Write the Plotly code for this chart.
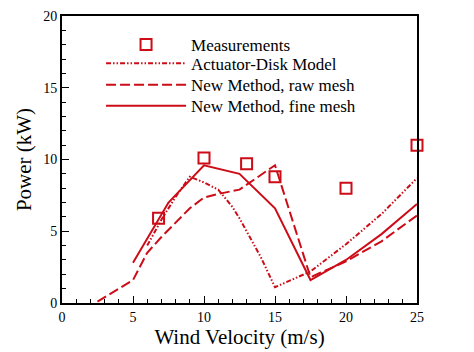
import plotly.graph_objects as go

RED = "#cc0d18"

meas_x = [6.8, 10, 13, 15, 20, 25]
meas_y = [5.9, 10.1, 9.7, 8.8, 8.0, 11.0]

act_x = [6, 7, 8, 9, 10, 11, 12, 12.5, 13, 14, 15, 17.5, 20, 22.5, 25]
act_y = [4.0, 5.8, 7.4, 8.8, 8.4, 7.9, 6.7, 5.9, 5.0, 3.2, 1.1, 2.2, 4.1, 6.2, 8.7]

raw_x = [2.5, 5, 6, 7, 8, 9, 10, 11, 12.5, 14, 15, 17.5, 20, 22.5, 25]
raw_y = [0.1, 1.6, 3.5, 4.6, 5.6, 6.6, 7.35, 7.6, 7.9, 8.9, 9.6, 1.8, 2.9, 4.3, 6.1]

fine_x = [5, 7.5, 10, 12.5, 15, 17.5, 20, 22.5, 25]
fine_y = [2.8, 7.0, 9.6, 9.0, 6.6, 1.6, 3.0, 4.8, 6.9]

fig = go.Figure()
fig.add_trace(go.Scatter(x=meas_x, y=meas_y, mode="markers", name="Measurements", legend="legend",
                         marker=dict(symbol="square-open", size=11, color=RED, line=dict(width=2, color=RED)),
                         cliponaxis=False))
fig.add_trace(go.Scatter(x=act_x, y=act_y, mode="lines", name="Actuator-Disk Model", legend="legend2",
                         line=dict(color=RED, width=2, dash="5px,2px,1.5px,2px,1.5px,2px")))
fig.add_trace(go.Scatter(x=raw_x, y=raw_y, mode="lines", name="New Method, raw mesh", legend="legend3",
                         line=dict(color=RED, width=2, dash="10px,4px")))
fig.add_trace(go.Scatter(x=fine_x, y=fine_y, mode="lines", name="New Method, fine mesh", legend="legend4",
                         line=dict(color=RED, width=2)))

font = "Liberation Serif"
axis_common = dict(
    showgrid=False, zeroline=False, showline=True, linecolor="black", linewidth=2, mirror=True,
    ticks="inside", ticklen=7, tickwidth=1, tickcolor="black",
    tickfont=dict(family=font, size=14, color="black"),
    minor=dict(ticks="inside", ticklen=4, tickwidth=1, tickcolor="black", dtick=1),
)
fig.update_xaxes(range=[0, 25], dtick=5, tick0=0,
                 title=dict(text="Wind Velocity (m/s)", font=dict(family=font, size=21, color="black"), standoff=4),
                 **axis_common)
fig.update_yaxes(range=[0, 20], dtick=5, tick0=0,
                 title=dict(text="Power (kW)", font=dict(family=font, size=21, color="black"), standoff=6),
                 **axis_common)

def leg(yc):
    return dict(x=0.11, y=yc, xanchor="left", yanchor="middle", bgcolor="rgba(0,0,0,0)",
                font=dict(family=font, size=17, color="black"), itemwidth=80)

fig.update_layout(
    width=474, height=352,
    margin=dict(l=62, r=57, t=9, b=44),
    paper_bgcolor="white", plot_bgcolor="white",
    showlegend=True,
    legend=leg(0.899), legend2=leg(0.834), legend3=leg(0.759), legend4=leg(0.686),
)

fig.write_html("out.html")
